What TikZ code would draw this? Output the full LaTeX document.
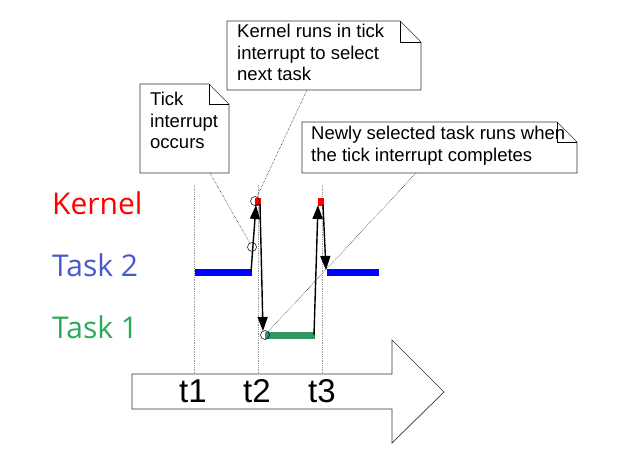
\documentclass[tikz,border=0pt]{standalone}
\usepackage{fontspec}
\setmainfont{Liberation Sans}
\newfontfamily\lblfont{Open Sans}
\usetikzlibrary{arrows.meta}
\definecolor{kred}{RGB}{255,0,0}
\definecolor{t2blue}{RGB}{70,90,205}
\definecolor{t1green}{RGB}{45,170,85}
\definecolor{bargreen}{RGB}{50,150,100}
\begin{document}
\begin{tikzpicture}[x=1pt,y=-1pt,
  lbl/.style={font=\lblfont\fontsize{30}{33}\selectfont,anchor=west,inner sep=0},
  note/.style={align=left,font=\fontsize{18.5}{21.5}\selectfont,anchor=north west,inner sep=0},
  tl/.style={font=\fontsize{33}{36}\selectfont,inner sep=0},
  grid/.style={densely dotted,gray!80,line width=0.8pt},
  flow/.style={black,line width=1.4pt,-{Triangle[length=14pt,width=10pt]}},
  ptr/.style={densely dotted,line width=0.5pt},
  box/.style={draw=black!80,line width=0.6pt,fill=white}]
\useasboundingbox (0,0) rectangle (624,456);
% callout boxes
\newcommand\mynote[5]{% x1 y1 x2 y2 fold
  \draw[box] (#1,#2) -- (#3-#5,#2) -- (#3,#2+#5) -- (#3,#4) -- (#1,#4) -- cycle;
  \draw[line width=0.6pt] (#3-#5,#2) -- (#3-#5,#2+#5) -- (#3,#2+#5);}
\mynote{227}{21}{421}{90}{21}
\mynote{140}{84}{229}{173}{20}
\mynote{302}{122}{577}{173}{20}
\node[note] (nk) at (237,24) {Kernel runs in tick\\interrupt to select\\next task};
\node[note] (nt) at (150,92) {Tick\\interrupt\\occurs};
\node[note] (nn) at (311,126) {Newly selected task runs when\\the tick interrupt completes};
\coordinate (pk) at (307,90);
\coordinate (pt) at (210,173);
\coordinate (pn) at (416,173);
% time arrow
\draw[black!80,line width=0.7pt,fill=white] (132,374) -- (392,374) -- (392,340) -- (444,392) -- (392,443) -- (392,409) -- (132,409) -- cycle;
% grid lines
\draw[grid] (194,185) -- (194,374);
\draw[grid] (258,185) -- (258,374);
\draw[grid] (322,185) -- (322,374);
\node[tl] (t1) at (193,391) {t1};
\node[tl] (t2) at (257,391) {t2};
\node[tl] (t3) at (322,391) {t3};
% labels
\node[lbl,text=kred] (lk) at (52,203) {Kernel};
\node[lbl,text=t2blue] (l2) at (52,265) {Task 2};
\node[lbl,text=t1green] (l1) at (52,327) {Task 1};
% bars
\draw[line width=7pt,blue] (195,272) -- (252,272);
\draw[line width=7pt,blue] (327,272) -- (379,272);
\draw[line width=7pt,bargreen] (265,335) -- (315,335);
\fill[red] (255,198) rectangle (261,206);
\fill[red] (318,198) rectangle (324,206);
% markers
\node[draw,circle,minimum size=9pt,inner sep=0,line width=0.5pt] (ca) at (252,247) {};
\node[draw,circle,minimum size=9pt,inner sep=0,line width=0.5pt] (cb) at (255,201) {};
\node[draw,circle,minimum size=9pt,inner sep=0,line width=0.5pt] (cc) at (265,335) {};
% flow arrows
\coordinate (a0) at (251,272); \coordinate (a1) at (256,205);
\coordinate (b0) at (260,204); \coordinate (b1) at (263,331);
\coordinate (c0) at (314,335); \coordinate (c1) at (318,205);
\coordinate (d0) at (323,205); \coordinate (d1) at (326,270);
\draw[flow] (a0) -- (a1);
\draw[flow] (b0) -- (b1);
\draw[flow] (c0) -- (c1);
\draw[flow] (d0) -- (d1);
% pointers
\draw[ptr] (pt) -- (ca);
\draw[ptr] (pk) -- (cb);
\draw[ptr] (pn) -- (cc);
\end{tikzpicture}
\end{document}
